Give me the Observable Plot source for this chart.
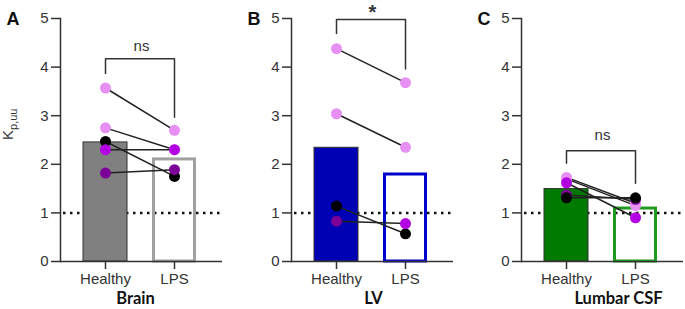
<!DOCTYPE html>
<html>
<head>
<meta charset="utf-8">
<script src="https://cdn.jsdelivr.net/npm/d3@7"></script>
<script src="https://cdn.jsdelivr.net/npm/@observablehq/plot@0.6"></script>
<style>
  html, body { margin: 0; padding: 0; background: white; }
  #row { display: flex; flex-direction: row; width: 685px; height: 309px; }
</style>
</head>
<body>
<div id="row"></div>
<script>
// ---- data ----
const groups = ["Healthy", "LPS"];
const tones = ["light", "mid", "dark", "black"];
const toneColors = ["#e590f2", "#b200e2", "#7a0096", "#000000"];

const brainMeans = [2.45, 2.10];
const brainHealthy = [2.47, 3.57, 2.75, 2.30, 1.82];
const brainLPS     = [1.75, 2.70, 2.30, 2.30, 1.89];
const brainToneH   = ["black", "light", "light", "mid", "dark"];
const brainToneL   = ["black", "light", "light", "mid", "dark"];
const brainBracket = [4.17, 3.87, 2.97]; // top, left leg end, right leg end
const brainSig = "ns", brainSigY = 4.44;

const lvMeans = [2.34, 1.79];
const lvHealthy = [4.38, 3.04, 1.14, 0.83];
const lvLPS     = [3.68, 2.35, 0.57, 0.78];
const lvToneH   = ["light", "light", "black", "dark"];
const lvToneL   = ["light", "light", "black", "mid"];
const lvBracket = [4.98, 4.69, 3.96];
const lvSig = "*", lvSigY = 5.12;

const csfMeans = [1.49, 1.09];
const csfHealthy = [1.73, 1.70, 1.62, 1.37, 1.31];
const csfLPS     = [1.20, 1.15, 0.90, 1.28, 1.31];
const csfToneH   = ["light", "light", "mid", "dark", "black"];
const csfToneL   = ["light", "light", "mid", "dark", "black"];
const csfBracket = [2.28, 2.02, 1.61];
const csfSig = "ns", csfSigY = 2.59;

const yTicks = [0, 1, 2, 3, 4, 5];

function panel(o) {
  const bars = groups.map((g, i) => ({group: g, value: o.means[i]}));
  const pairs = o.healthy.map((h, i) => ({h, l: o.lps[i]}));
  const points = [];
  o.healthy.forEach((v, i) => points.push({group: "Healthy", value: v, tone: o.toneH[i]}));
  o.lps.forEach((v, i) => points.push({group: "LPS", value: v, tone: o.toneL[i]}));
  const br = [
    {g: "Healthy", v: o.bracket[1]},
    {g: "Healthy", v: o.bracket[0]},
    {g: "LPS", v: o.bracket[0]},
    {g: "LPS", v: o.bracket[2]}
  ];
  const ml = o.marginLeft;
  const marks = [
    Plot.ruleY([1], {stroke: "#111", strokeWidth: 2.5, strokeDasharray: "2.5,4.5", insetLeft: 3}),
    Plot.barY(bars.filter(d => d.group === "LPS"), {x: "group", y: "value", fill: "none", stroke: o.strokeColor, strokeWidth: 3, insetLeft: 1.5, insetRight: 1.5}),
    Plot.barY(bars.filter(d => d.group === "Healthy"), {x: "group", y: "value", fill: o.fillColor, stroke: "#333", strokeWidth: 1}),
    Plot.ruleY([0], {stroke: "#333", strokeWidth: 1.5}),
    Plot.frame({anchor: "left", stroke: "#333", strokeWidth: 1.5}),
    Plot.axisY({ticks: yTicks, tickFormat: d => String(d), tickSize: 9, tickPadding: 3, fontSize: 15, label: null, strokeWidth: 1.5}),
    Plot.axisX({tickSize: 8, tickPadding: 4, fontSize: 15, label: null, strokeWidth: 1.5}),
    Plot.line(br, {x: "g", y: "v", stroke: "#333", strokeWidth: 1.5}),
    Plot.text([o.sig], {y: () => o.sigY, text: d => d, fontSize: o.sig === "*" ? 20 : 15, fontWeight: o.sig === "*" ? "bold" : "normal", fill: "#333"}),
    Plot.link(pairs, {x1: () => "Healthy", x2: () => "LPS", y1: "h", y2: "l", stroke: "#222", strokeWidth: 1.5}),
    Plot.dot(points, {x: "group", y: "value", fill: "tone", r: 5.5}),
    Plot.text([o.title], {frameAnchor: "bottom", dy: 42, dx: o.titleDx, text: d => d, fontSize: 16.5, fontWeight: "bold", fontFamily: "Lato", fill: "#111"}),
    Plot.text([o.letter], {frameAnchor: "top-left", dx: o.letterDx, dy: -6, text: d => d, fontSize: 18, fontWeight: "bold", textAnchor: "start", fill: "#111"})
  ];
  if (o.ylabel) {
    marks.push(Plot.text([o.ylabel], {frameAnchor: "left", dx: -52, rotate: -90, text: d => d, fontSize: 15, fill: "#333"}));
  }
  return Plot.plot({
    width: o.width,
    height: 309,
    marginLeft: ml,
    marginRight: o.marginRight,
    marginTop: 18,
    marginBottom: 48,
    style: {fontFamily: "'Liberation Sans', Arial, sans-serif", color: "#333", background: "white", overflow: "visible"},
    x: {type: "band", domain: groups, range: [ml + 10, ml + 150], paddingInner: 0.357, paddingOuter: 0.1786},
    y: {domain: [0, 5]},
    color: {domain: tones, range: toneColors},
    marks
  });
}

const row = document.getElementById("row");
row.append(panel({
  title: "Brain", letter: "A", letterDx: -54, titleDx: -6, ylabel: "Kp,uu",
  means: brainMeans, healthy: brainHealthy, lps: brainLPS, toneH: brainToneH, toneL: brainToneL,
  bracket: brainBracket, sig: brainSig, sigY: brainSigY,
  fillColor: "#808080", strokeColor: "#a0a0a0",
  width: 230, marginLeft: 60, marginRight: 8
}));
row.append(panel({
  title: "LV", letter: "B", letterDx: -44, titleDx: 1,
  means: lvMeans, healthy: lvHealthy, lps: lvLPS, toneH: lvToneH, toneL: lvToneL,
  bracket: lvBracket, sig: lvSig, sigY: lvSigY,
  fillColor: "#0000b4", strokeColor: "#0000cc",
  width: 230, marginLeft: 61, marginRight: 7
}));
row.append(panel({
  title: "Lumbar CSF", letter: "C", letterDx: -44, titleDx: 16,
  means: csfMeans, healthy: csfHealthy, lps: csfLPS, toneH: csfToneH, toneL: csfToneL,
  bracket: csfBracket, sig: csfSig, sigY: csfSigY,
  fillColor: "#007a00", strokeColor: "#1f9a1f",
  width: 225, marginLeft: 61, marginRight: 2
}));

// subscript for y label
d3.selectAll("svg text").each(function() {
  if (this.textContent === "Kp,uu") {
    const t = d3.select(this);
    t.text(null);
    t.append("tspan").text("K");
    t.append("tspan").attr("font-size", 11).attr("dy", 4).text("p,uu");
  }
});
</script>
</body>
</html>
